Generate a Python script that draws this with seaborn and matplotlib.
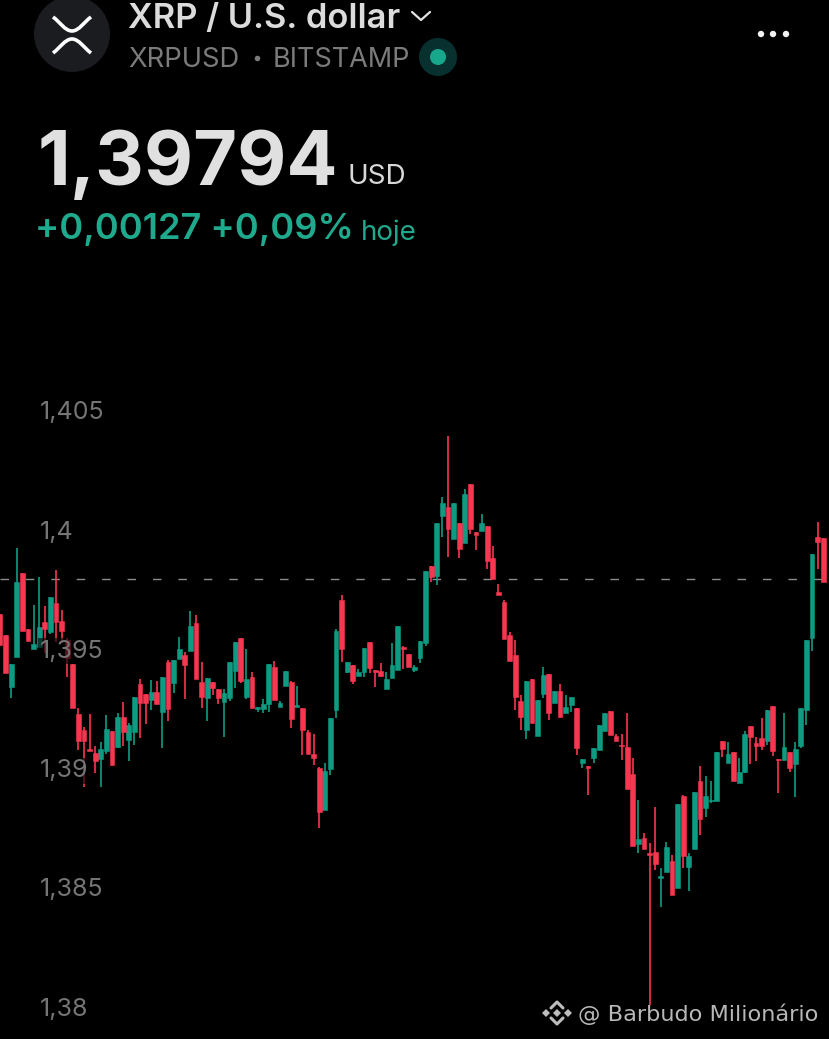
import seaborn as sns
import matplotlib.pyplot as plt
import matplotlib.patches as mpatches
from matplotlib.path import Path
import pandas as pd
import numpy as np

# candles, in USD
opens = [1.39649,1.39561,1.39342,1.39468,1.39820,1.39586,1.39502,1.39510,1.39615,1.39573,1.39694,1.39619,
         1.39540,1.39439,1.39229,1.39162,1.39082,1.39065,1.39040,1.39074,1.39158,1.39091,1.39217,1.39120,
         1.39154,1.39355,1.39313,1.39288,1.39322,1.39238,1.39447,1.39359,1.39460,1.39477,1.39493,1.39610,
         1.39363,1.39296,1.39363,1.39334,1.39280,1.39296,1.39410,1.39548,1.39301,1.39384,1.39250,1.39250,
         1.39271,1.39426,1.39258,1.39347,1.39363,1.39258,1.39254,1.39154,1.39061,1.39003,1.38826,1.38998,
         1.39246,1.39707,1.39405,1.39435,1.39388,1.39405,1.39531,1.39414,1.39410,1.39334,1.39380,1.39414,
         1.39510,1.39481,1.39414,1.39464,1.39527,1.39850,1.39808,1.40060,1.40098,1.39963,1.40030,1.39946,
         1.40194,1.39992,1.39997,1.40018,1.39884,1.39741,1.39699,1.39561,1.39477,1.39284,1.39162,1.39376,
         1.39137,1.39313,1.39397,1.39275,1.39326,1.39233,1.39267,1.39254,1.39024,1.39011,1.39045,1.39078,
         1.39158,1.39242,1.39137,1.39099,1.39091,1.38977,1.38684,1.38709,1.38646,1.38650,1.38541,1.38566,
         1.38612,1.38499,1.38885,1.38587,1.38663,1.38948,1.38835,1.38864,1.38864,1.39116,1.39024,1.39070,
         1.38940,1.38986,1.39179,1.39108,1.39128,1.39116,1.39263,1.39040,1.39036,1.39070,1.39020,1.39095,
         1.39246,1.39548,1.39972,1.39967]
highs = [1.39649,1.39561,1.39439,1.39925,1.39820,1.39586,1.39686,1.39804,1.39682,1.39720,1.39833,1.39665,
         1.39548,1.39439,1.39254,1.39175,1.39229,1.39095,1.39112,1.39225,1.39158,1.39233,1.39280,1.39191,
         1.39301,1.39376,1.39313,1.39372,1.39368,1.39384,1.39456,1.39456,1.39552,1.39489,1.39661,1.39644,
         1.39447,1.39380,1.39363,1.39334,1.39334,1.39447,1.39531,1.39548,1.39502,1.39405,1.39258,1.39292,
         1.39439,1.39452,1.39284,1.39410,1.39368,1.39347,1.39254,1.39162,1.39145,1.39007,1.39024,1.39212,
         1.39586,1.39728,1.39447,1.39435,1.39418,1.39506,1.39531,1.39414,1.39443,1.39405,1.39527,1.39598,
         1.39514,1.39481,1.39435,1.39535,1.39829,1.39850,1.40030,1.40139,1.40395,1.40114,1.40030,1.40173,
         1.40194,1.39992,1.40068,1.40018,1.39934,1.39774,1.39707,1.39573,1.39540,1.39309,1.39368,1.39376,
         1.39288,1.39426,1.39397,1.39326,1.39355,1.39309,1.39301,1.39254,1.39040,1.39011,1.39087,1.39183,
         1.39233,1.39242,1.39145,1.39145,1.39233,1.39045,1.38868,1.38730,1.38688,1.38839,1.38583,1.38692,
         1.38637,1.38852,1.38889,1.38646,1.38902,1.39011,1.38969,1.38948,1.39070,1.39116,1.39112,1.39070,
         1.39045,1.39158,1.39179,1.39133,1.39212,1.39246,1.39263,1.39040,1.39233,1.39070,1.39112,1.39254,
         1.39540,1.39900,1.40035,1.39967]
lows = [1.39519,1.39401,1.39296,1.39468,1.39577,1.39535,1.39502,1.39510,1.39485,1.39565,1.39531,1.39527,
        1.39384,1.39254,1.39078,1.38923,1.39074,1.38981,1.38923,1.39061,1.39015,1.39087,1.39095,1.39032,
        1.39099,1.39128,1.39187,1.39246,1.39271,1.39087,1.39200,1.39317,1.39460,1.39292,1.39493,1.39376,
        1.39254,1.39200,1.39309,1.39271,1.39133,1.39284,1.39338,1.39359,1.39292,1.39254,1.39238,1.39233,
        1.39238,1.39288,1.39258,1.39347,1.39170,1.39258,1.39057,1.39061,1.39015,1.38751,1.38826,1.38973,
        1.39212,1.39447,1.39401,1.39355,1.39388,1.39384,1.39401,1.39342,1.39384,1.39334,1.39380,1.39414,
        1.39418,1.39426,1.39405,1.39443,1.39514,1.39783,1.39770,1.39972,1.39888,1.39963,1.39884,1.39946,
        1.39984,1.39917,1.39997,1.39837,1.39795,1.39728,1.39544,1.39452,1.39246,1.39162,1.39124,1.39191,
        1.39137,1.39296,1.39204,1.39275,1.39217,1.39233,1.39238,1.39057,1.39003,1.38889,1.39024,1.39078,
        1.39158,1.39141,1.39116,1.39036,1.38914,1.38675,1.38646,1.38663,1.38008,1.38575,1.38420,1.38566,
        1.38470,1.38499,1.38583,1.38487,1.38663,1.38721,1.38797,1.38855,1.38864,1.39049,1.39024,1.38948,
        1.38940,1.38981,1.39020,1.39032,1.39078,1.39099,1.39053,1.38898,1.39036,1.38986,1.38881,1.39087,
        1.39183,1.39493,1.39837,1.39783]
closes = [1.39519,1.39401,1.39439,1.39783,1.39577,1.39535,1.39523,1.39594,1.39586,1.39720,1.39615,1.39577,
          1.39464,1.39254,1.39116,1.39116,1.39074,1.39032,1.39082,1.39166,1.39015,1.39217,1.39154,1.39183,
          1.39301,1.39275,1.39275,1.39322,1.39271,1.39384,1.39250,1.39456,1.39502,1.39435,1.39598,1.39376,
          1.39301,1.39380,1.39338,1.39296,1.39317,1.39447,1.39531,1.39368,1.39376,1.39254,1.39258,1.39271,
          1.39439,1.39288,1.39275,1.39410,1.39208,1.39267,1.39162,1.39061,1.39045,1.38818,1.38990,1.39212,
          1.39577,1.39502,1.39447,1.39368,1.39405,1.39506,1.39422,1.39405,1.39388,1.39376,1.39435,1.39598,
          1.39502,1.39426,1.39426,1.39535,1.39829,1.39804,1.40030,1.40114,1.40005,1.40114,1.39921,1.40152,
          1.40005,1.39980,1.40030,1.39871,1.39795,1.39728,1.39544,1.39452,1.39301,1.39217,1.39368,1.39191,
          1.39288,1.39393,1.39233,1.39326,1.39217,1.39258,1.39301,1.39087,1.39040,1.39003,1.39087,1.39183,
          1.39233,1.39141,1.39116,1.39095,1.38914,1.38675,1.38705,1.38663,1.38637,1.38600,1.38549,1.38671,
          1.38470,1.38852,1.38633,1.38633,1.38902,1.38789,1.38885,1.38868,1.39070,1.39082,1.39061,1.38948,
          1.38986,1.39145,1.39133,1.39095,1.39095,1.39246,1.39074,1.39036,1.39091,1.39003,1.39082,1.39254,
          1.39540,1.39900,1.39951,1.39783]
last_price = 1.39794
tick_values = [1.405, 1.40, 1.395, 1.39, 1.385, 1.38]
tick_labels = ['1,405', '1,4', '1,395', '1,39', '1,385', '1,38']

up_color = '#0f9b82'
down_color = '#f73650'

sns.set_theme(style='dark', rc={'axes.facecolor': 'black', 'figure.facecolor': 'black',
                                'lines.scale_dashes': False})
plt.rcParams['font.family'] = ['Inter', 'DejaVu Sans']

df = pd.DataFrame({'i': np.arange(len(opens)), 'open': opens, 'high': highs, 'low': lows, 'close': closes})
df['body'] = (df['close'] - df['open']).abs()
df['base'] = df[['open', 'close']].min(axis=1)
up = df[df['close'] >= df['open']]
down = df[df['close'] < df['open']]

fig = plt.figure(figsize=(8.2901, 10.3901), dpi=100)
ax = fig.add_axes([0, 0, 1, 1])

ax.axhline(last_price, color='#8c8c8c', lw=1.0, linestyle=(0, (6.1, 12.2)), zorder=1)

for part, colr in [(up, up_color), (down, down_color)]:
    sns.barplot(data=part, x='i', y='body', bottom=part['base'].values, native_scale=True,
                color=colr, saturation=1, width=0.88, linewidth=0.4, edgecolor=colr, errorbar=None, ax=ax, zorder=3)
    ax.vlines(part['i'], part['low'], part['high'], color=colr, lw=1.2, zorder=2)

ax.set_xlim(0, 148.04)
ax.set_ylim(1.37866, 1.42224)
ax.set_xlabel('')
ax.set_ylabel('')
ax.set_xticks([])
ax.set_yticks([])
sns.despine(ax=ax, left=True, bottom=True)

for v, lab in zip(tick_values, tick_labels):
    ax.annotate(lab, (0.048, v), xycoords=ax.get_yaxis_transform(), xytext=(0, -1.4),
                textcoords='offset points', color='#757575', fontsize=18,
                ha='left', va='center', zorder=5,
                bbox=dict(facecolor='black', alpha=0.62, edgecolor='none', pad=1.0))

# header and watermark, in pixel coordinates
ov = fig.add_axes([0, 0, 1, 1], facecolor='none')
ov.set_xlim(0, 829)
ov.set_ylim(1039, 0)
ov.axis('off')

ov.add_patch(mpatches.Circle((72, 34), 38, color='#1b1c1f', lw=0))
logo_top = Path([(53, 17), (60, 22), (65, 31), (72, 31), (79, 31), (84, 22), (91, 17)],
                [Path.MOVETO] + [Path.CURVE4] * 6)
logo_bot = Path([(53, 53), (60, 48), (65, 39), (72, 39), (79, 39), (84, 48), (91, 53)],
                [Path.MOVETO] + [Path.CURVE4] * 6)
for p in (logo_top, logo_bot):
    ov.add_patch(mpatches.PathPatch(p, fc='none', ec='white', lw=2.6, capstyle='butt'))

ov.text(128, 28, 'XRP / U.S. dollar', color='#dcdcdc', fontsize=24.8, fontweight='semibold', ha='left', va='baseline')
ov.plot([412, 421, 430], [12, 20, 12], color='#e3e3e3', lw=1.6)
ov.text(128, 67, 'XRPUSD', color='#7b7b7b', fontsize=19.7, ha='left', va='baseline')
ov.plot([257], [58], 'o', color='#7b7b7b', ms=4, mew=0)
ov.text(273, 67, 'BITSTAMP', color='#7b7b7b', fontsize=19.5, ha='left', va='baseline')
ov.add_patch(mpatches.Circle((438, 57), 19, color='#08302f', lw=0))
ov.add_patch(mpatches.Circle((438, 57), 8, color='#16a78c', lw=0))
for x in (761, 773, 786):
    ov.add_patch(mpatches.Circle((x, 34), 3.2, color='#f2f2f2', lw=0))

ov.text(38, 185, '1,39794', color='#e0e0e0', fontsize=54.5, fontweight='bold', ha='left', va='baseline')
ov.text(347, 184, 'USD', color='#d8d8d8', fontsize=20, ha='left', va='baseline')
ov.text(35, 239, '+0,00127 +0,09%', color='#1fa98d', fontsize=26, fontweight='semibold', ha='left', va='baseline')
ov.text(361, 240, 'hoje', color='#1fa98d', fontsize=20, ha='left', va='baseline')

# binance mark
for pts in ([(551, 1008), (557, 1002), (563, 1008)], [(551, 1018), (557, 1024), (563, 1018)]):
    ov.plot([a for a, b in pts], [b for a, b in pts], color='#bdbdbd', lw=2.2, zorder=6)
for x in (546, 557, 568):
    ov.plot([x], [1013], 'D', color='#bdbdbd', ms=4, mew=0, zorder=6)
ov.text(578, 1021, '@ Barbudo Milionário', color='#b8b8b8', fontsize=16.1,
        family=['DejaVu Sans'], ha='left', va='baseline', zorder=6)

fig.savefig('out.png', dpi=100, facecolor='black')
